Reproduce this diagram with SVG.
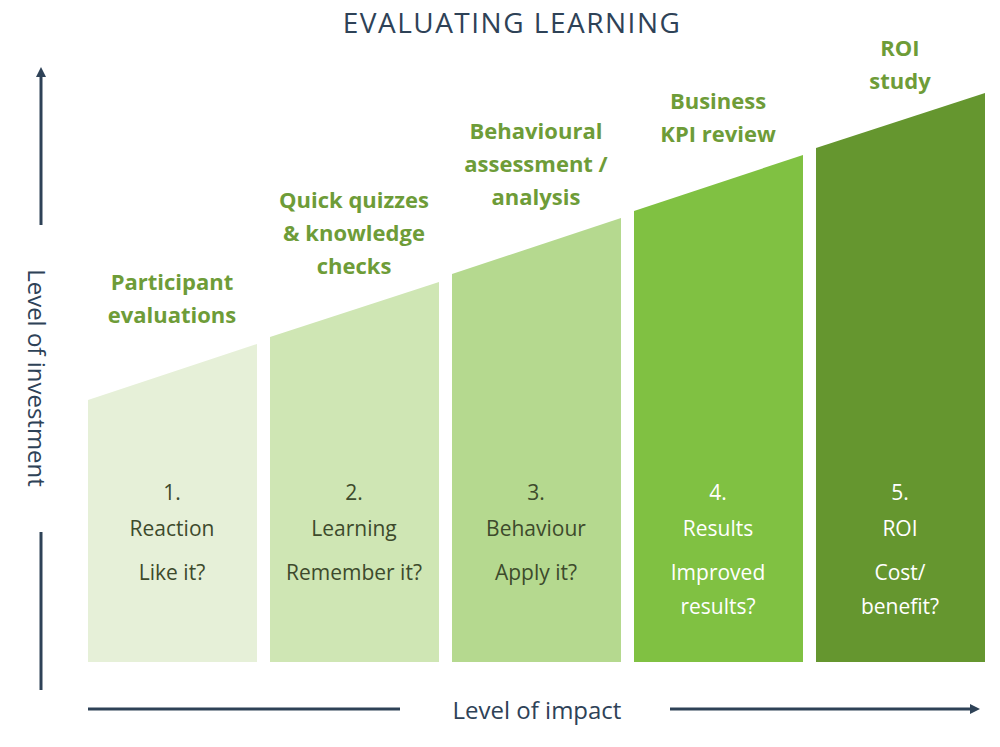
<svg xmlns="http://www.w3.org/2000/svg" width="1000" height="747" viewBox="0 0 1000 747">
<style>
.h{font-family:"Open Sans","Liberation Sans",sans-serif;font-weight:bold;font-size:22px;fill:#6e9c38;text-anchor:middle}
.t{font-family:"Open Sans","Liberation Sans",sans-serif;font-size:21px;text-anchor:middle;fill:#3d4a2c}
.w{fill:#ffffff}
.ax{stroke:#2e4257;stroke-width:3;fill:none}
.al{font-family:"Open Sans","Liberation Sans",sans-serif;font-size:24px;fill:#2e4257;text-anchor:middle}
</style>
<defs><marker id="ar" markerWidth="10" markerHeight="10" refX="5" refY="5" orient="auto" markerUnits="userSpaceOnUse" viewBox="0 0 10 10"><path d="M0,0 L10,5 L0,10 z" fill="#2e4257"/></marker></defs>
<rect width="1000" height="747" fill="#fff"/>
<text x="512" y="33" font-family="Open Sans,Liberation Sans,sans-serif" font-size="28" fill="#2e4257" text-anchor="middle" letter-spacing="1.5">EVALUATING LEARNING</text>
<g id="n1"><polygon points="88,400 257,344 257,662 88,662" fill="#e6f0d8"/>
<text class="h" x="172" y="290">Participant</text><text class="h" x="172" y="323">evaluations</text>
<text class="t" x="172" y="500">1.</text><text class="t" x="172" y="536">Reaction</text><text class="t" x="172" y="580">Like it?</text></g>
<g id="n2"><polygon points="270,337 439,282 439,662 270,662" fill="#cfe6b4"/>
<text class="h" x="354" y="208">Quick quizzes</text><text class="h" x="354" y="241">&amp; knowledge</text><text class="h" x="354" y="274">checks</text>
<text class="t" x="354" y="500">2.</text><text class="t" x="354" y="536">Learning</text><text class="t" x="354" y="580">Remember it?</text></g>
<g id="n3"><polygon points="452,274 621,218 621,662 452,662" fill="#b5d98f"/>
<text class="h" x="536" y="139">Behavioural</text><text class="h" x="536" y="172">assessment /</text><text class="h" x="536" y="205">analysis</text>
<text class="t" x="536" y="500">3.</text><text class="t" x="536" y="536">Behaviour</text><text class="t" x="536" y="580">Apply it?</text></g>
<g id="n4"><polygon points="634,211 803,155 803,662 634,662" fill="#80c142"/>
<text class="h" x="718" y="109">Business</text><text class="h" x="718" y="142">KPI review</text>
<text class="t w" x="718" y="500">4.</text><text class="t w" x="718" y="536">Results</text><text class="t w" x="718" y="580">Improved</text><text class="t w" x="718" y="614">results?</text></g>
<g id="n5"><polygon points="816,148 985,93 985,662 816,662" fill="#65962f"/>
<text class="h" x="900" y="56">ROI</text><text class="h" x="900" y="89">study</text>
<text class="t w" x="900" y="500">5.</text><text class="t w" x="900" y="536">ROI</text><text class="t w" x="900" y="580">Cost/</text><text class="t w" x="900" y="614">benefit?</text></g>
<g id="connectors">
<line class="ax" x1="41" y1="225" x2="41" y2="72" marker-end="url(#ar)"/>
<line class="ax" x1="41" y1="690" x2="41" y2="532"/>
<line class="ax" x1="88" y1="709" x2="400" y2="709"/>
<line class="ax" x1="670" y1="709" x2="975" y2="709" marker-end="url(#ar)"/>
</g>
<text class="al" x="0" y="0" transform="translate(28,378) rotate(90)">Level of investment</text>
<text class="al" x="537" y="719">Level of impact</text>
</svg>
